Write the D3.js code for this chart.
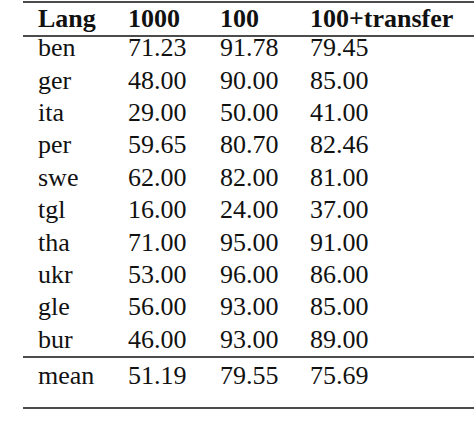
<!DOCTYPE html>
<html><head><meta charset="utf-8">
<script src="https://cdn.jsdelivr.net/npm/d3@7"></script>
<style>body{margin:0;background:#fff}</style></head>
<body><svg id="c" width="474" height="440"></svg>
<script>
const headers = ["Lang", "1000", "100", "100+transfer"];
const langs = ["ben","ger","ita","per","swe","tgl","tha","ukr","gle","bur"];
const v1000 = ["71.23","48.00","29.00","59.65","62.00","16.00","71.00","53.00","56.00","46.00"];
const v100 = ["91.78","90.00","50.00","80.70","82.00","24.00","95.00","96.00","93.00","93.00"];
const vTransfer = ["79.45","85.00","41.00","82.46","81.00","37.00","91.00","86.00","85.00","89.00"];
const meanRow = ["mean","51.19","79.55","75.69"];

const svg = d3.select("#c");
const font = "Liberation Serif, Times New Roman, serif";
const colX = d3.scaleOrdinal().domain([0,1,2,3]).range([38,128,220,310]);
const rowY = d3.scaleBand().domain(langs).range([31,355]).padding(0);

function rule(y){ svg.append("line").attr("x1",23).attr("x2",474).attr("y1",y).attr("y2",y).attr("stroke","#111").attr("stroke-width",1.6); }
rule(2); rule(36); rule(357); rule(408);

function row(cells, base, bold){
  svg.append("g").selectAll("text").data(cells).join("text")
    .attr("x",(d,i)=>colX(i)).attr("y",base)
    .attr("font-family",font).attr("font-size",26)
    .attr("font-weight",bold?"bold":"normal").attr("fill","#111").text(d=>d);
}
row(headers, 27, true);
langs.forEach((l,i)=> row([l, v1000[i], v100[i], vTransfer[i]], rowY(l)+rowY.bandwidth()/2+9, false));
row(meanRow, 384, false);
</script></body></html>
